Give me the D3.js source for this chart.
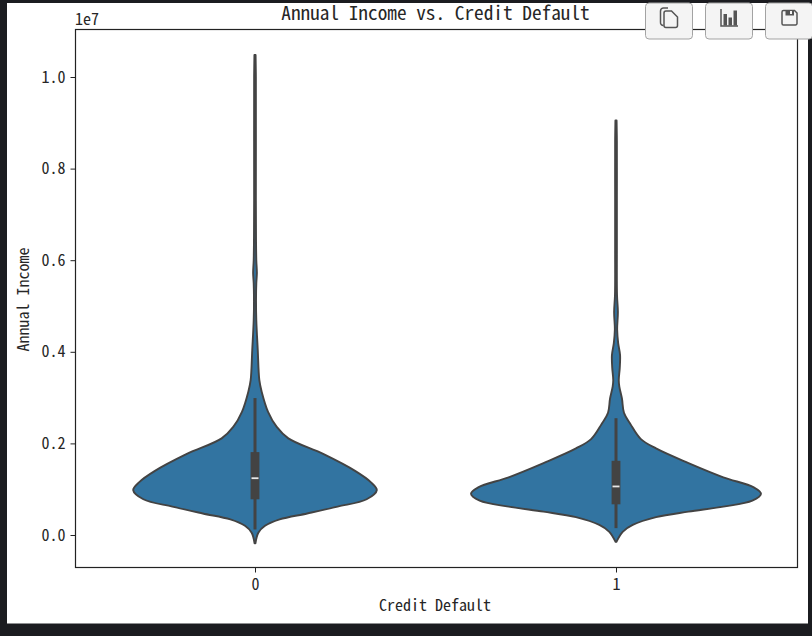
<!DOCTYPE html>
<html>
<head>
<meta charset="utf-8">
<script src="https://cdn.jsdelivr.net/npm/d3@7/dist/d3.min.js"></script>
<style>
html,body{margin:0;padding:0;background:#1b1c20;}
svg{display:block;}
text{font-family:"Noto Sans Mono CJK SC","Noto Sans CJK SC","Liberation Mono",monospace;fill:#262626;}
</style>
</head>
<body>
<svg id="chart" width="812" height="636"></svg>
<script>
// Data (income in units of 1e7, density as % of the widest violin)
const categories = [0, 1];
const yTicks = [0, 0.2, 0.4, 0.6, 0.8, 1.0];
const incomeGrid0 = [-0.018,0.005,0.020,0.034,0.047,0.062,0.078,0.098,0.115,0.140,0.177,0.211,0.236,0.269,0.313,0.338,0.404,0.469,0.513,0.550,0.572,0.600,0.644,0.731,1.000,1.048];
const density0    = [0.3,2.3,6.9,17,36,57,77,84,80,69,47,23,15,9,4.6,3,1.9,0.9,0.7,0.9,1.3,0.9,0.7,0.6,0.6,0.4];
const incomeGrid1 = [-0.015,0.007,0.022,0.039,0.051,0.062,0.075,0.090,0.104,0.126,0.157,0.189,0.210,0.242,0.267,0.298,0.324,0.338,0.365,0.393,0.419,0.448,0.487,0.524,0.622,0.731,0.860,0.905];
const density1    = [0.3,4.6,11.5,27.6,50,74,94,100,95,74,50,27.6,17,10,5.5,4.1,2.3,1.9,2.6,2.8,1.5,0.8,1.3,0.7,0.6,0.6,0.6,0.4];
// quartiles, median and whisker ends (units of 1e7)
const q1 = [0.078, 0.067];
const median = [0.124, 0.106];
const q3 = [0.181, 0.162];
const whiskerLow = [0.012, 0.015];
const whiskerHigh = [0.299, 0.255];
const title = "Annual Income vs. Credit Default";
const xLabel = "Credit Default";
const yLabel = "Annual Income";
const offset = "1e7";

const svg = d3.select("#chart");
const plot = {left:75.5, right:797.5, top:29.5, bottom:567.5};

// page card
svg.append("rect").attr("x",7).attr("y",3).attr("width",801).attr("height",620.5).attr("fill","#fff");

const x = d3.scaleLinear().domain([-0.5,1.5]).range([74.5,796.5]);
const y = d3.scaleLinear().domain([0,1]).range([535,77]);
const w = d3.scaleLinear().domain([0,100]).range([0,145]);

const grids = [incomeGrid0, incomeGrid1];
const dens = [density0, density1];
const fill = "#3274a1", dark = "#434343";

categories.forEach((c,i)=>{
  const pts = grids[i].map((v,k)=>({v, d:dens[i][k]}));
  const area = d3.area()
    .y(d=>y(d.v))
    .x0(d=>x(c)-w(d.d))
    .x1(d=>x(c)+w(d.d))
    .curve(d3.curveCatmullRom.alpha(0.5));
  svg.append("path").attr("d",area(pts)).attr("fill",fill)
    .attr("stroke",dark).attr("stroke-width",1.9).attr("stroke-linejoin","round");
  svg.append("line").attr("x1",x(c)).attr("x2",x(c)).attr("y1",y(whiskerLow[i])).attr("y2",y(whiskerHigh[i]))
    .attr("stroke",dark).attr("stroke-width",3);
  svg.append("rect").attr("x",x(c)-4.4).attr("width",8.8)
    .attr("y",y(q3[i])).attr("height",y(q1[i])-y(q3[i])).attr("fill",dark);
  svg.append("line").attr("x1",x(c)-3.5).attr("x2",x(c)+3.5).attr("y1",y(median[i])).attr("y2",y(median[i]))
    .attr("stroke","#e8e8e8").attr("stroke-width",1.8);
});

// axes
const yAxis = d3.axisLeft(y).tickValues(yTicks).tickSize(5).tickPadding(5).tickFormat(d=>d.toFixed(1));
const xAxis = d3.axisBottom(x).tickValues(categories).tickSize(5).tickPadding(6).tickFormat(d3.format("d"));
const gy = svg.append("g").attr("transform",`translate(${plot.left},0)`).call(yAxis);
const gx = svg.append("g").attr("transform",`translate(0,${plot.bottom})`).call(xAxis);
[gy,gx].forEach(g=>{
  g.select(".domain").remove();
  g.selectAll(".tick line").attr("stroke","#222").attr("stroke-width",1);
  g.selectAll("text").attr("font-size",16).style("fill","#262626");
});
svg.append("rect").attr("x",plot.left).attr("y",plot.top)
  .attr("width",plot.right-plot.left).attr("height",plot.bottom-plot.top)
  .attr("fill","none").attr("stroke","#222").attr("stroke-width",1.2);

// labels
svg.append("text").attr("x",435.5).attr("y",20).attr("text-anchor","middle").attr("font-size",19.3).text(title);
svg.append("text").attr("x",435).attr("y",611).attr("text-anchor","middle").attr("font-size",16).text(xLabel);
svg.append("text").attr("transform","translate(29,299.5) rotate(-90)").attr("text-anchor","middle").attr("font-size",16).text(yLabel);
svg.append("text").attr("x",75).attr("y",25).attr("font-size",16).text(offset);

// toolbar buttons
const buttons = [645.5,705.5,765.5];
const tb = svg.append("g");
buttons.forEach(bx=>{
  tb.append("rect").attr("x",bx).attr("y",3).attr("width",47).attr("height",36).attr("rx",3.5)
    .attr("fill","#f4f4f4").attr("stroke","#a3a3a3").attr("stroke-width",1);
});
// copy icon
tb.append("path").attr("d","M668 8 h-4.5 a3 3 0 0 0 -3 3 v11 a3 3 0 0 0 3 3.5")
  .attr("fill","none").attr("stroke","#555").attr("stroke-width",1.5);
tb.append("path").attr("d","M664 13 a2 2 0 0 1 2 -2 h5.5 l6 6 v8.5 a2 2 0 0 1 -2 2 h-9.5 a2 2 0 0 1 -2 -2 z")
  .attr("fill","none").attr("stroke","#555").attr("stroke-width",1.5);
// bar chart icon
tb.append("path").attr("d","M721 9 v17 h17").attr("fill","none").attr("stroke","#555").attr("stroke-width",1.5);
tb.append("path").attr("d","M723.5 14 h3.5 v11.5 h-3.5 z M728.5 17.5 h3.5 v8 h-3.5 z M733.5 10.5 h3.5 v15 h-3.5 z").attr("fill","#555");
// save icon
tb.append("path").attr("d","M783.5 10.5 h11 l2.5 2.5 v10.5 a1.5 1.5 0 0 1 -1.5 1.5 h-12 a1.5 1.5 0 0 1 -1.5 -1.5 v-11.5 a1.5 1.5 0 0 1 1.5 -1.5 z")
  .attr("fill","none").attr("stroke","#555").attr("stroke-width",1.5);
tb.append("path").attr("d","M785.5 10.5 h8.5 v5 h-8.5 z").attr("fill","#555");
tb.append("rect").attr("x",790).attr("y",11).attr("width",2).attr("height",3).attr("fill","#f4f4f4");
</script>
</body>
</html>
